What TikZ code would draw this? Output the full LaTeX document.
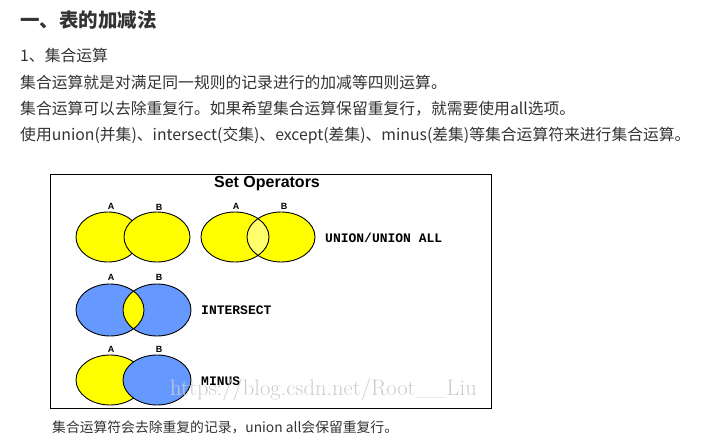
\documentclass[tikz,border=0pt]{standalone}
\usepackage{fontspec}
\setmainfont{Noto Sans CJK SC}
\newfontfamily\monob{Liberation Mono}
\newfontfamily\arialf{Liberation Sans}
\definecolor{yel}{RGB}{255,255,0}
\definecolor{lyel}{RGB}{255,255,110}
\definecolor{blu}{RGB}{102,153,255}
\definecolor{txt}{RGB}{51,51,51}
\begin{document}
\begin{tikzpicture}[x=1pt,y=-1pt,
  body/.style={anchor=west,inner sep=0,font=\fontsize{15.8}{16}\selectfont,text=txt},
  lab/.style={inner sep=0,font=\arialf\bfseries\fontsize{9}{9}\selectfont},
  op/.style={anchor=west,inner sep=0,font=\monob\bfseries\fontsize{13}{13}\selectfont},
  ell/.style={draw=black,line width=0.9pt}]
\useasboundingbox (0,0) rectangle (709,444);
\node[body,font=\bfseries\fontsize{19.5}{20}\selectfont] (h) at (20,20) {一、表的加减法};
\node[body] (s1) at (20,55) {1、集合运算};
\node[body] (l1) at (20,82) {集合运算就是对满足同一规则的记录进行的加减等四则运算。};
\node[body] (l2) at (20,109) {集合运算可以去除重复行。如果希望集合运算保留重复行，就需要使用all选项。};
\node[body] (l3) at (20,136) {使用union(并集)、intersect(交集)、except(差集)、minus(差集)等集合运算符来进行集合运算。};
\draw[line width=0.8pt] (50,174) rectangle (491,408);
\node[inner sep=0,font=\arialf\bfseries\fontsize{16}{16}\selectfont] (t) at (267,184) {Set Operators};
% row 1 left
\fill[yel] (108,237) ellipse [x radius=32,y radius=25];
\draw[ell] (108,237) ellipse [x radius=32,y radius=25];
\fill[yel] (157,237) ellipse [x radius=33,y radius=25];
\draw[ell] (157,237) ellipse [x radius=33,y radius=25];
\node[lab] (a1) at (111,206) {A}; \node[lab] (b1) at (159,207) {B};
% row 1 right
\fill[yel] (235,237) ellipse [x radius=34,y radius=25];
\fill[yel] (281,237) ellipse [x radius=34,y radius=25];
\begin{scope}\clip (235,237) ellipse [x radius=34,y radius=25];
\fill[lyel] (281,237) ellipse [x radius=34,y radius=25];\end{scope}
\draw[ell] (235,237) ellipse [x radius=34,y radius=25];
\draw[ell] (281,237) ellipse [x radius=34,y radius=25];
\node[lab] (a2) at (236,206) {A}; \node[lab] (b2) at (284,206) {B};
\node[op] (u) at (325,238) {UNION/UNION ALL};
% row 2
\fill[blu] (110,310) ellipse [x radius=34,y radius=26];
\fill[blu] (157,310) ellipse [x radius=34,y radius=26];
\begin{scope}\clip (110,310) ellipse [x radius=34,y radius=26];
\fill[yel] (157,310) ellipse [x radius=34,y radius=26];\end{scope}
\draw[ell] (110,310) ellipse [x radius=34,y radius=26];
\draw[ell] (157,310) ellipse [x radius=34,y radius=26];
\node[lab] (a3) at (111,277) {A}; \node[lab] (b3) at (159,277) {B};
\node[op] (i) at (201,310) {INTERSECT};
% row 3
\fill[yel] (110,380) ellipse [x radius=34,y radius=25];
\draw[ell] (110,380) ellipse [x radius=34,y radius=25];
\fill[blu] (157,380) ellipse [x radius=34,y radius=25];
\draw[ell] (157,380) ellipse [x radius=34,y radius=25];
\node[lab] (a4) at (111,349) {A}; \node[lab] (b4) at (159,349) {B};
\node[op] (m) at (201,381) {MINUS};
\node[anchor=west,inner sep=0,text=black!20,font=\fontfamily{lmr}\fontsize{22.5}{22}\selectfont] (w) at (170,390) {https://blog.csdn.net/Root\_\_Liu};
\node[anchor=west,inner sep=0,font=\fontsize{13.8}{14}\selectfont,text=txt] (c) at (52,427) {集合运算符会去除重复的记录，union all会保留重复行。};
\end{tikzpicture}
\end{document}
